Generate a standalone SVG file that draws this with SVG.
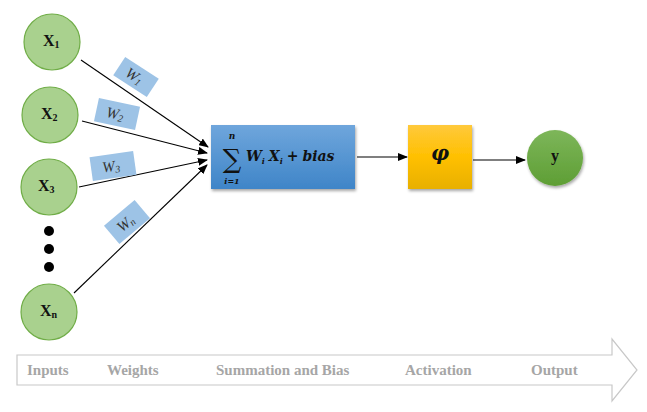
<svg xmlns="http://www.w3.org/2000/svg" width="647" height="412" viewBox="0 0 647 412">
<defs>
<linearGradient id="gg" x1="0" y1="0" x2="0" y2="1"><stop offset="0" stop-color="#7db65a"/><stop offset="1" stop-color="#5e9e34"/></linearGradient>
<linearGradient id="bg" x1="0" y1="0" x2="0" y2="1"><stop offset="0" stop-color="#6fa6dc"/><stop offset="1" stop-color="#3f85c8"/></linearGradient>
<linearGradient id="yg" x1="0" y1="0" x2="0" y2="1"><stop offset="0" stop-color="#ffc93c"/><stop offset="0.5" stop-color="#ffc000"/><stop offset="1" stop-color="#e8b000"/></linearGradient>
<marker id="ah" markerWidth="10" markerHeight="8" refX="9" refY="4" orient="auto" markerUnits="userSpaceOnUse"><path d="M0,0 L10,4 L0,8 Z" fill="#000"/></marker>
<filter id="sh"><feDropShadow dx="1" dy="2" stdDeviation="1.5" flood-opacity="0.35"/></filter>
</defs>
<style>
.in{fill:#a9d18e;stroke:#70ad47;stroke-width:1.2}
.xt{font-family:"Liberation Serif","Times New Roman","DejaVu Serif",serif;font-weight:bold;font-size:16px;fill:#111}
.sub{font-size:10px}
.wb{fill:#9dc3e6}
.wt{font-family:"Liberation Serif","Times New Roman","DejaVu Serif",serif;font-style:italic;font-size:15px;fill:#333}
.c{stroke:#000;stroke-width:1.1;fill:none;marker-end:url(#ah)}
.lb{font-family:"Liberation Serif","Times New Roman","DejaVu Serif",serif;font-weight:bold;font-size:15px;fill:#a6a6a6}
.m{font-family:"DejaVu Serif",serif;font-weight:bold;font-style:italic;fill:#111}
</style>
<g id="connectors">
<line class="c" x1="81" y1="60" x2="208" y2="147"/>
<line class="c" x1="82" y1="121" x2="207" y2="153"/>
<line class="c" x1="79" y1="187" x2="207" y2="160"/>
<line class="c" x1="74" y1="293" x2="207" y2="165"/>
<line class="c" x1="357" y1="157" x2="407" y2="157"/>
<line class="c" x1="473" y1="160" x2="525" y2="160"/>
</g>
<g id="x1"><circle class="in" cx="52" cy="42" r="28"/><text class="xt" x="43" y="46">X<tspan class="sub" dy="2">1</tspan></text></g>
<g id="x2"><circle class="in" cx="50" cy="115" r="28"/><text class="xt" x="41" y="119">X<tspan class="sub" dy="2">2</tspan></text></g>
<g id="x3"><circle class="in" cx="49" cy="187" r="28"/><text class="xt" x="38" y="191">X<tspan class="sub" dy="2">3</tspan></text></g>
<g id="dots"><circle cx="49" cy="231" r="5"/><circle cx="49" cy="249" r="5"/><circle cx="49" cy="267" r="5"/></g>
<g id="xn"><circle class="in" cx="49" cy="312" r="28"/><text class="xt" x="40" y="316">X<tspan class="sub" dy="2">n</tspan></text></g>
<g id="w1" transform="translate(136,77) rotate(33)"><rect class="wb" x="-20" y="-11" width="40" height="22"/><text class="wt" x="-2" y="5" text-anchor="middle">W<tspan font-size="10" dy="2">1</tspan></text></g>
<g id="w2" transform="translate(117,114) rotate(12)"><rect class="wb" x="-21" y="-12" width="42" height="24"/><text class="wt" x="-2" y="5" text-anchor="middle">W<tspan font-size="10" dy="2">2</tspan></text></g>
<g id="w3" transform="translate(113,166) rotate(-8)"><rect class="wb" x="-22" y="-12" width="44" height="24"/><text class="wt" x="-2" y="5" text-anchor="middle" font-style="normal">W<tspan font-size="10" dy="2">3</tspan></text></g>
<g id="wn" transform="translate(127,222) rotate(-40)"><rect class="wb" x="-20" y="-12" width="40" height="24"/><text class="wt" x="-2" y="5" text-anchor="middle" font-style="normal">W<tspan font-size="10" dy="2">n</tspan></text></g>
<g id="sum"><rect x="211" y="125" width="144" height="64" fill="url(#bg)" filter="url(#sh)"/>
<text x="232" y="168" font-family="DejaVu Serif,serif" font-size="26" fill="#111" text-anchor="middle">∑</text>
<text class="m" x="232" y="139" font-size="9" text-anchor="middle">n</text>
<text class="m" x="232" y="184" font-size="8" font-style="normal" text-anchor="middle">i=1</text>
<text class="m" x="246" y="161" font-size="14">W<tspan font-size="8" dy="3">i</tspan><tspan dy="-3" dx="4">X</tspan><tspan font-size="8" dy="3">i</tspan><tspan dy="-3" dx="4" font-style="normal">+</tspan><tspan dx="4">bias</tspan></text></g>
<g id="act"><rect x="408" y="125" width="64" height="64" fill="url(#yg)" filter="url(#sh)"/><text class="m" x="440" y="160" font-size="20" text-anchor="middle">φ</text></g>
<g id="out"><circle cx="555" cy="158" r="28" fill="url(#gg)" filter="url(#sh)"/><text class="xt" x="555" y="161" text-anchor="middle">y</text></g>
<g id="stages"><path d="M17,355 H612 V339 L637,370 L612,401 V385 H17 Z" fill="#fff" stroke="#c8c8c8" stroke-width="1.2"/>
<text class="lb" x="27" y="375">Inputs</text><text class="lb" x="107" y="375">Weights</text><text class="lb" x="216" y="375">Summation and Bias</text><text class="lb" x="405" y="375">Activation</text><text class="lb" x="531" y="375">Output</text></g>
</svg>
